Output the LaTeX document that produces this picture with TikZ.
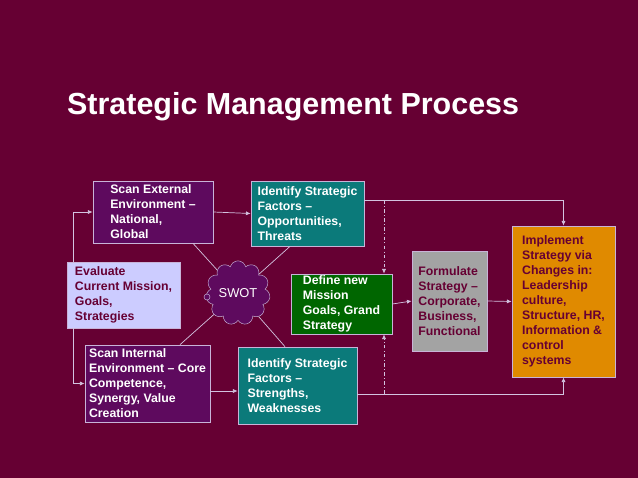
\documentclass[tikz,border=0pt]{standalone}
\usepackage{fontspec}
\setmainfont{Liberation Sans}
\usetikzlibrary{shapes.symbols,arrows.meta}
\definecolor{bgx}{HTML}{660033}
\definecolor{pux}{HTML}{5E0A5E}
\definecolor{tex}{HTML}{0B7A7A}
\definecolor{lvx}{HTML}{CCCCFF}
\definecolor{grn}{HTML}{006600}
\definecolor{gyx}{HTML}{A3A3A3}
\definecolor{orx}{HTML}{E08A00}
\definecolor{rim}{HTML}{C8B4D8}
\definecolor{mrx}{HTML}{660033}
\tikzset{
    box/.style={draw=rim,line width=0.6pt,align=left,inner sep=0pt,
        font=\bfseries\fontsize{10.5}{12.8}\selectfont,text=white},
    link/.style={draw=rim!80!white,line width=0.6pt},
    arr/.style={link,-{Latex[length=4pt,width=3.5pt]}},
    dotdash/.style={dash pattern=on 3pt off 2pt on 0.8pt off 2pt}
}
\begin{document}
\begin{tikzpicture}[x=0.03cm,y=-0.03cm]
    \fill[bgx] (0,0) rectangle (638,478);
    \node[anchor=west,text=white,font=\bfseries\fontsize{26}{30}\selectfont]
        (title) at (63,107) {Strategic Management Process};
    \node[box,fill=pux,minimum width=3.6cm,minimum height=1.86cm]
        (ext) at (153,212) {Scan External\\Environment --\\National,\\Global};
    \node[box,fill=tex,minimum width=3.39cm,minimum height=1.95cm]
        (otf) at (307.5,213.5) {Identify Strategic\\Factors --\\Opportunities,\\Threats};
    \node[box,fill=lvx,text=mrx,minimum width=3.39cm,minimum height=1.98cm]
        (eval) at (123.5,295) {Evaluate\\Current Mission,\\Goals,\\Strategies};
    \node[box,fill=pux,minimum width=3.75cm,minimum height=2.31cm]
        (int) at (147.5,383.5) {Scan Internal\\Environment -- Core\\Competence,\\Synergy, Value\\Creation};
    \node[box,fill=tex,minimum width=3.57cm,minimum height=2.31cm]
        (swf) at (297.5,385.5) {Identify Strategic\\Factors --\\Strengths,\\Weaknesses};
    \node[box,fill=grn,minimum width=3.03cm,minimum height=1.8cm]
        (def) at (341.5,304) {Define new\\Mission\\Goals, Grand\\Strategy};
    \node[box,fill=gyx,text=mrx,minimum width=2.25cm,minimum height=3cm]
        (form) at (449.5,301) {Formulate\\Strategy --\\Corporate,\\Business,\\Functional};
    \node[box,fill=orx,text=mrx,minimum width=3.09cm,minimum height=4.53cm]
        (impl) at (563.5,301.5) {Implement\\Strategy via\\Changes in:\\Leadership\\culture,\\Structure, HR,\\Information \&\\control\\systems};
    \node[cloud,cloud puffs=11,draw=rim,fill=pux,text=white,
        minimum width=1.8cm,minimum height=1.2cm,inner sep=0pt,
        font=\fontsize{11}{13}\selectfont]
        (swot) at (238,293) {SWOT};
    \draw[rim,fill=pux] (207,297) circle (3);
    % swot spokes
    \draw[link] (ext.south -| 193,0) -- (swot);
    \draw[link] (otf.south -| 290,0) -- (swot);
    \draw[link] (int.north -| 180,0) -- (swot);
    \draw[link] (swf.north -| 285,0) -- (swot);
    % main flow
    \draw[arr] (eval.north -| 73,0) |- (ext.west);
    \draw[arr] (eval.south -| 73,0) |- (int.west);
    \draw[arr] (ext.east) -- (otf.west);
    \draw[arr] (int.east |- 0,391) -- (swf.west |- 0,391);
    \coordinate (tp) at (384,200);
    \coordinate (bt) at (384,394);
    \draw[arr] (otf.east |- tp) -| (impl.north);
    \draw[arr] (swf.east |- bt) -| (impl.south);
    \draw[arr,dotdash] (tp) -- (tp |- def.north);
    \draw[arr,dotdash] (bt) -- (bt |- def.south);
    \draw[arr] (def.east) -- (form.west);
    \draw[arr] (form.east) -- (impl.west);
\end{tikzpicture}
\end{document}
